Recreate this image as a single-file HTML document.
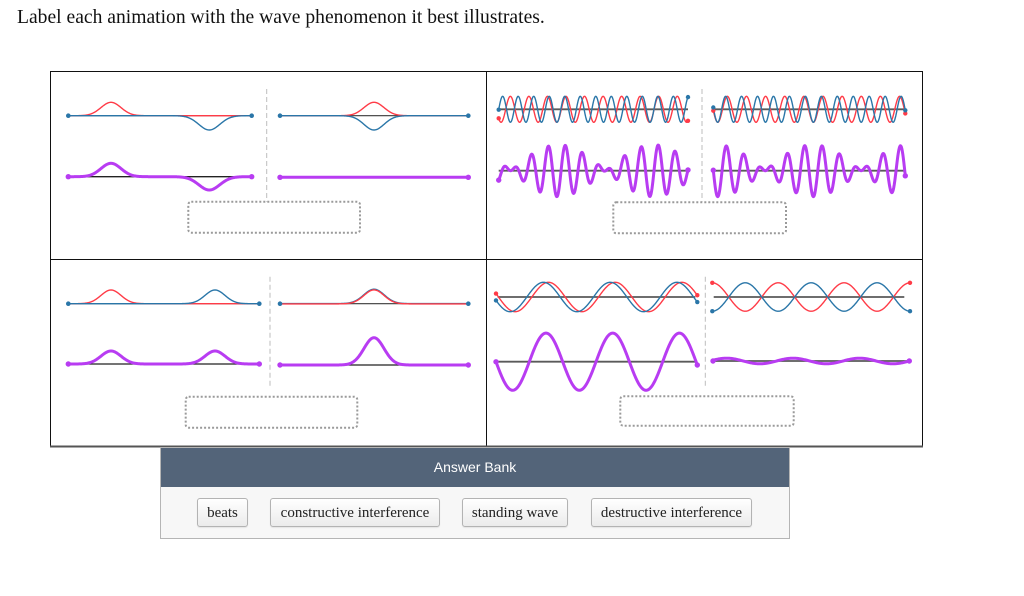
<!DOCTYPE html>
<html>
<head>
<meta charset="utf-8">
<style>
  html,body{margin:0;padding:0;background:#fff;}
  body{width:1024px;height:596px;overflow:hidden;position:relative;}
  .title{position:absolute;left:17px;top:8px;font:19.6px "Liberation Serif",serif;line-height:20px;color:#111;white-space:nowrap;}
  .bank{position:absolute;left:160px;top:447px;width:628px;height:90px;border:1px solid #b5b5b5;background:#f7f7f7;}
  .bankhead{height:39px;background:#536479;color:#fff;font:14px "Liberation Sans",sans-serif;text-align:center;line-height:39px;}
  .btn{position:absolute;top:498px;height:29px;box-sizing:border-box;border:1px solid #b3b3b3;border-radius:3px;
       background:linear-gradient(#ffffff,#ebebeb);font:15px "Liberation Serif",serif;line-height:28px;text-align:center;color:#222;
       box-shadow:0 1px 1px rgba(0,0,0,0.08);white-space:nowrap;}
  svg{position:absolute;left:0;top:0;}
</style>
</head>
<body>
<div class="title">Label each animation with the wave phenomenon it best illustrates.</div>

<svg width="1024" height="596" viewBox="0 0 1024 596">
  <!-- grid -->
  <rect x="50.5" y="71.5" width="872" height="375" fill="none" stroke="#111" stroke-width="1"/>
  <line x1="486.5" y1="71" x2="486.5" y2="446" stroke="#111" stroke-width="1"/>
  <line x1="50" y1="259.5" x2="923" y2="259.5" stroke="#111" stroke-width="1"/>
  <line x1="50" y1="446.5" x2="923" y2="446.5" stroke="#555" stroke-width="2"/>
  <!-- dashed separators -->
  <g stroke="#bdbdbd" stroke-width="1" stroke-dasharray="5 3" fill="none">
    <line x1="266.7" y1="89" x2="266.7" y2="201.7"/>
    <line x1="702" y1="89" x2="702" y2="201.7"/>
    <line x1="270" y1="276.7" x2="270" y2="388.3"/>
    <line x1="705.3" y1="276.7" x2="705.3" y2="388.3"/>
  </g>
  <!-- dotted drop boxes -->
  <g stroke="#9a9a9a" stroke-width="2" stroke-dasharray="2 2" fill="none">
    <rect x="188.3" y="201.7" width="171.7" height="31" rx="3"/>
    <rect x="613.3" y="202.3" width="172.7" height="31" rx="3"/>
    <rect x="185.7" y="396.7" width="171.6" height="31" rx="3"/>
    <rect x="620.3" y="396.3" width="173.4" height="29.4" rx="3"/>
  </g>
  <g id="w"></g>
</svg>

<div class="bank"><div class="bankhead">Answer Bank</div></div>
<div class="btn" style="left:197px;width:51px;">beats</div>
<div class="btn" style="left:270px;width:170px;">constructive interference</div>
<div class="btn" style="left:462px;width:106px;">standing wave</div>
<div class="btn" style="left:591px;width:161px;">destructive interference</div>

<script>
(function(){
  var R='#ff3b47', B='#2a76a8', P='#b83cf2', K='#3a3a3a', G='#5a5a5a';
  var out='';
  function pth(f,x0,x1,col,w){
    var n=Math.ceil((x1-x0)/0.5), d='';
    for(var i=0;i<=n;i++){var x=x0+(x1-x0)*i/n; d+=(i?'L':'M')+x.toFixed(2)+' '+f(x).toFixed(2);}
    out+='<path d="'+d+'" fill="none" stroke="'+col+'" stroke-width="'+w+'" stroke-linejoin="round" stroke-linecap="round"/>';
  }
  function dot(x,y,col,r){out+='<circle cx="'+x+'" cy="'+y+'" r="'+r+'" fill="'+col+'"/>';}
  function line(x0,x1,y,col,w){out+='<line x1="'+x0+'" y1="'+y+'" x2="'+x1+'" y2="'+y+'" stroke="'+col+'" stroke-width="'+w+'"/>';}
  function g(x,c,s){var t=(x-c)/s;return Math.exp(-t*t/2);}
  var TW=2*Math.PI;

  /* ---- Panel 1 : destructive interference (pulses) ---- */
  line(68.3,251.7,115.7,K,1.2);
  pth(function(x){return 115.7-13.4*g(x,111,10);},68.3,251.7,R,1.4);
  pth(function(x){return 115.7+14.3*g(x,209.3,10.5);},68.3,251.7,B,1.4);
  dot(68.3,115.7,B,2.3); dot(251.7,115.7,B,2.3);
  line(68.3,251.7,176.7,'#222',1.3);
  pth(function(x){return 176.7-13.4*g(x,111,10)+13.3*g(x,209.3,10.5);},68.3,251.7,P,3);
  dot(68.3,176.7,P,2.7); dot(251.7,176.7,P,2.7);

  line(280,468.3,115.7,K,1.2);
  pth(function(x){return 115.7-13.4*g(x,374,10);},280,468.3,R,1.4);
  pth(function(x){return 115.7+14.3*g(x,374,10);},280,468.3,B,1.4);
  dot(280,115.7,B,2.3); dot(468.3,115.7,B,2.3);
  pth(function(x){return 177.3;},280,468.3,P,3);
  dot(280,177.3,P,2.7); dot(468.3,177.3,P,2.7);

  /* ---- Panel 2 : beats ---- */
  function beats(x0,x1,yb,yp,xe,xc,T,Tb){
    var A=13;
    function a(x){return TW*(x-xc)/T+Math.PI*(x-xe)/Tb;}
    function bb(x){return TW*(x-xc)/T-Math.PI*(x-xe)/Tb;}
    function blu(x){return A*Math.cos(a(x));}
    function red(x){return A*Math.cos(bb(x));}
    line(x0,x1,yb,G,1.8);
    pth(function(x){return yb-red(x);},x0,x1,R,1.4);
    pth(function(x){return yb-blu(x);},x0,x1,B,1.4);
    dot(x0,yb-red(x0),R,2.2); dot(x1,yb-red(x1),R,2.2);
    dot(x0,yb-blu(x0),B,2.2); dot(x1,yb-blu(x1),B,2.2);
    line(x0,x1,yp,G,1.8);
    pth(function(x){return yp-red(x)-blu(x);},x0,x1,P,3);
    dot(x0,yp-red(x0)-blu(x0),P,2.7); dot(x1,yp-red(x1)-blu(x1),P,2.7);
  }
  beats(498.7,688,109.3,170.7,558.3,531.5,16.9,95);
  beats(713.3,905.3,109.3,170.7,813,787.3,17.4,96);

  /* ---- Panel 3 : constructive interference (pulses) ---- */
  line(68.3,259.3,303.7,K,1.2);
  pth(function(x){return 303.7-13.7*g(x,111,10);},68.3,259.3,R,1.4);
  pth(function(x){return 303.7-13.7*g(x,215,10);},68.3,259.3,B,1.4);
  dot(68.3,303.7,B,2.3); dot(259.3,303.7,B,2.3);
  line(68.3,259.3,364,'#222',1.3);
  pth(function(x){return 364-13*g(x,111,10)-13*g(x,215,10);},68.3,259.3,P,3);
  dot(68.3,364,P,2.7); dot(259.3,364,P,2.7);

  line(280,468.3,303.7,K,1.2);
  pth(function(x){return 303.7-14.4*g(x,374,10.2);},280,468.3,B,1.6);
  pth(function(x){return 303.9-14*g(x,374,10);},280,468.3,R,1.4);
  dot(280,303.7,B,2.3); dot(468.3,303.7,B,2.3);
  line(280,468.3,365,'#222',1.3);
  pth(function(x){return 365-27.3*g(x,374,10);},280,468.3,P,3);
  dot(280,365,P,2.7); dot(468.3,365,P,2.7);

  /* ---- Panel 4 : constructive (waves) & standing wave ---- */
  (function(){
    var A=14.7, T=66.7, x0=496, x1=697.3;
    function r(x){return A*Math.cos(TW*(x-548.5)/T);}
    function b(x){return A*Math.cos(TW*(x-543.5)/T);}
    line(497.7,695.3,297,G,1.8);
    pth(function(x){return 297-r(x);},x0,x1,R,1.4);
    pth(function(x){return 297-b(x);},x0,x1,B,1.4);
    dot(x0,297-r(x0),R,2.2); dot(x1,297-r(x1),R,2.2);
    dot(x0,297-b(x0),B,2.2); dot(x1,297-b(x1),B,2.2);
    line(x0,x1,361.7,G,1.8);
    pth(function(x){return 361.7-r(x)-b(x);},x0,x1,P,3);
    dot(x0,361.7-r(x0)-b(x0),P,2.7); dot(x1,361.7-r(x1)-b(x1),P,2.7);
  })();
  (function(){
    var A=14.2, T=65.9, x0=712.3, x1=910;
    function r(x){return A*Math.cos(TW*(x-712.3)/T);}
    line(713.7,904.3,297,G,1.8);
    pth(function(x){return 297-r(x);},x0,x1,R,1.4);
    pth(function(x){return 297+r(x);},x0,x1,B,1.4);
    dot(x0,297-r(x0),R,2.2); dot(x1,297-r(x1),R,2.2);
    dot(x0,297+r(x0),B,2.2); dot(x1,297+r(x1),B,2.2);
    line(713,909,361,G,1.8);
    pth(function(x){return 361-2.8*Math.sin(TW*(x-710)/66.5);},713,909.3,P,3);
    dot(713,361,P,2.7); dot(909.3,361,P,2.7);
  })();

  document.getElementById('w').innerHTML=out;
})();
</script>
</body>
</html>
